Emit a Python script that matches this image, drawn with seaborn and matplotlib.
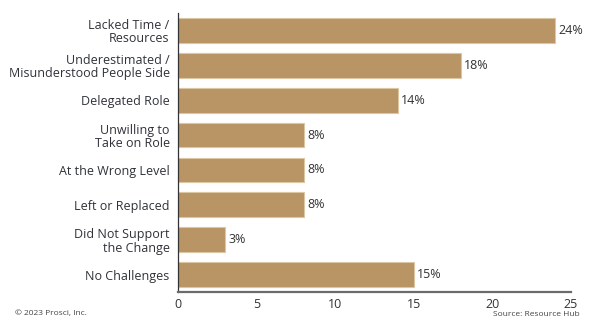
import matplotlib
matplotlib.use("Agg")
import matplotlib.pyplot as plt
import seaborn as sns
import pandas as pd

categories = ["Lacked Time /\nResources", "Underestimated /\nMisunderstood People Side",
              "Delegated Role", "Unwilling to\nTake on Role", "At the Wrong Level",
              "Left or Replaced", "Did Not Support\nthe Change", "No Challenges"]
values = [24, 18, 14, 8, 8, 8, 3, 15]
xticks = [0, 5, 10, 15, 20, 25]

sns.set_theme(style="white")
plt.rcParams['font.family'] = ['Open Sans', 'DejaVu Sans']

df = pd.DataFrame({"cat": categories, "val": values})
fig = plt.figure(figsize=(6.01, 3.28), dpi=100)
ax = fig.add_axes([178/601, 1-292/328, (571-178)/601, (292-13)/328])
sns.barplot(data=df, x="val", y="cat", ax=ax, color="#B99464", saturation=1,
            width=0.71, edgecolor="#DCC7A5", linewidth=0.8)
ax.set_xlim(0, 25)
ax.set_ylim(7.5, -0.5)
ax.set_xticks(xticks)
ax.set_xlabel("")
ax.set_ylabel("")
for s in ["top", "right"]:
    ax.spines[s].set_visible(False)
ax.spines["left"].set_color("#333333")
ax.spines["left"].set_linewidth(0.9)
ax.spines["bottom"].set_color("#6b6b6b")
ax.spines["bottom"].set_linewidth(1.6)
ax.tick_params(axis="x", direction="in", length=6, width=1, color="#333333",
               labelsize=9, labelcolor="#333333", pad=4)
ax.tick_params(axis="y", length=0, labelsize=9, labelcolor="#2f3239", pad=6)
for lbl in ax.get_yticklabels():
    lbl.set_horizontalalignment("right")
    lbl.set_multialignment("right")
    lbl.set_linespacing(1.05)
    lbl.set_fontweight("medium")
for i, v in enumerate(values):
    ax.text(v + 0.2, i, f"{v}%", va="center", ha="left", fontsize=9, color="#333333")
fig.text(15/601, 1-314/328, "© 2023 Prosci, Inc.", fontsize=6, color="#444444", va="center", ha="left")
fig.text(580/601, 1-314/328, "Source: Resource Hub", fontsize=6, color="#444444", va="center", ha="right")
fig.savefig("out.png", dpi=100)
